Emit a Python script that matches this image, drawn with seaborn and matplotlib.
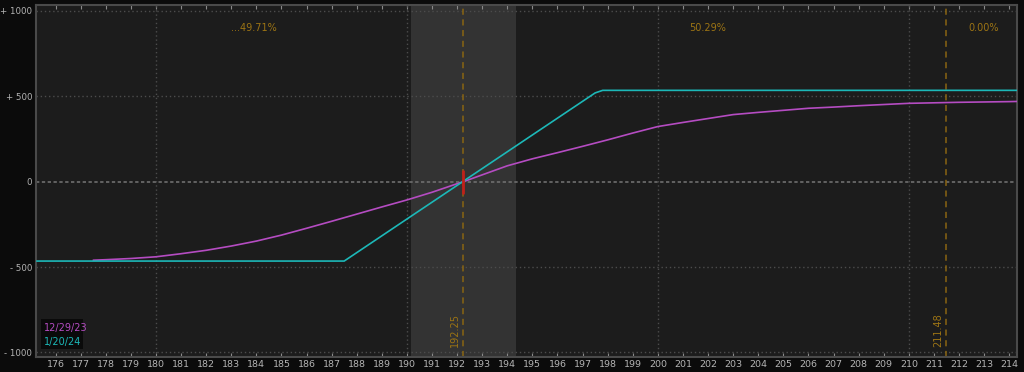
import numpy as np
import pandas as pd
import matplotlib
matplotlib.use("Agg")
import matplotlib.pyplot as plt
import matplotlib.patches as mpatches
import seaborn as sns

# ---- data ----
t0_x = [177.5, 178, 179, 180, 181, 182, 183, 184, 185, 186, 187, 188, 189, 190,
        191, 192, 192.25, 193, 194, 195, 196, 197, 198, 199, 200, 201, 202, 203,
        204, 205, 206, 207, 208, 209, 210, 211, 212, 213, 214, 214.3]
t0_y = [-460, -457, -450, -440, -422, -402, -377, -348, -313, -273, -232, -190,
        -148, -107, -62, -12, 0, 40, 93, 134, 170, 207, 245, 285, 323, 347, 370,
        393, 406, 418, 430, 437, 445, 452, 459, 462, 465, 467, 469, 470]
exp_x = [175.25, 187.5, 197.5, 197.8, 214.3]
exp_y = [-465, -465, 520, 535, 535]
series_labels = ["12/29/23", "1/20/24"]
series_colors = ["#b54cc2", "#1cb8b8"]
x_ticks = list(range(176, 215))
y_ticks = [1000, 500, 0, -500, -1000]
y_tick_labels = ["+ 1000", "+ 500", "0", "- 500", "- 1000"]
band = (190.15, 194.35)
marker_lines = [192.25, 211.48]
pct_labels = ["...49.71%", "50.29%", "0.00%"]
pct_x = [183.9, 202.0, 213.0]
price_now = 192.25

sns.set_theme(style="dark")
plt.rcParams["font.family"] = ["DejaVu Sans"]

df = pd.concat([
    pd.DataFrame({"price": t0_x, "pl": t0_y, "series": series_labels[0]}),
    pd.DataFrame({"price": exp_x, "pl": exp_y, "series": series_labels[1]}),
])

fig = plt.figure(figsize=(10.24, 3.72), dpi=100, facecolor="#0b0b0b")
ax = fig.add_axes([35.5 / 1024, 1 - 357 / 372, (1017 - 35.5) / 1024, (357 - 5) / 372])
ax.set_facecolor("#1c1c1c")

ax.axvspan(band[0], band[1], color="#333333", zorder=0, lw=0)

# grid
for yv in [1000, 500, -500, -1000]:
    ax.axhline(yv, color="#4c4c4c", lw=1, ls=(0, (1, 2)), zorder=1)
ax.axhline(0, color="#6e6e6e", lw=1.2, ls=(0, (2, 1.5)), zorder=1)
for xv in [180, 190, 200, 210]:
    ax.axvline(xv, color="#4c4c4c", lw=1, ls=(0, (1, 2)), zorder=1)
for xv in marker_lines:
    ax.axvline(xv, color="#8a6512", lw=1.1, ls=(0, (4, 3)), zorder=2)

sns.lineplot(data=df, x="price", y="pl", hue="series", palette=series_colors,
             hue_order=series_labels, ax=ax, lw=1.2, legend=False, zorder=3,
             estimator=None, sort=True)

ax.plot([price_now, price_now], [-65, 65], color="#c0201a", lw=2, zorder=4)

ax.set_xlim(175.2, 214.31)
ax.set_ylim(-1027, 1035)
ax.set_xticks(x_ticks)
ax.set_xticklabels([str(v) for v in x_ticks], color="#b4b4b4", fontsize=6.8)
ax.set_yticks(y_ticks)
ax.set_yticklabels(y_tick_labels, color="#b4b4b4", fontsize=6.2)
ax.tick_params(axis="x", direction="in", top=True, bottom=True, length=3,
               color="#8a8a8a", pad=2.5, width=0.8)
ax.tick_params(axis="y", length=0, pad=2.5)
ax.set_xlabel("")
ax.set_ylabel("")
ax.grid(False)
for s in ax.spines.values():
    s.set_visible(True)
    s.set_color("#4a4a4a")
    s.set_linewidth(1.5)

for lab, xv in zip(pct_labels, pct_x):
    ax.text(xv, 900, lab, color="#9c7414", fontsize=7, ha="center", va="center")
for xv in marker_lines:
    ax.text(xv - 0.32, -870, f"{xv:.2f}", color="#9c7414", fontsize=7,
            rotation=90, ha="center", va="center")

# legend box (figure pixel coordinates of the reference)
fig.patches.append(mpatches.Rectangle((41 / 1024, 1 - 349 / 372), 42 / 1024, 30 / 372,
                                      transform=fig.transFigure, facecolor="#0a0a0a",
                                      edgecolor="none", zorder=5))
fig.text(44 / 1024, 1 - 328 / 372, series_labels[0], color=series_colors[0],
         fontsize=7, va="center", ha="left", zorder=6)
fig.text(44 / 1024, 1 - 342 / 372, series_labels[1], color=series_colors[1],
         fontsize=7, va="center", ha="left", zorder=6)

fig.savefig("out.png", dpi=100, facecolor=fig.get_facecolor())
